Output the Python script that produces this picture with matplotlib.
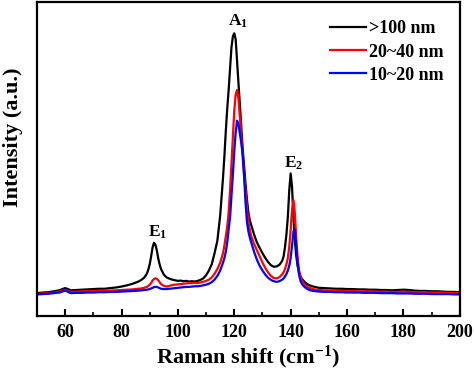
import matplotlib
matplotlib.use("Agg")
import matplotlib.pyplot as plt
from matplotlib.ticker import MultipleLocator

plt.rcParams['font.family'] = ['Liberation Serif', 'DejaVu Serif']
plt.rcParams['font.weight'] = 'bold'
plt.rcParams['mathtext.fontset'] = 'custom'
plt.rcParams['mathtext.rm'] = 'Liberation Serif:bold'
plt.rcParams['mathtext.bf'] = 'Liberation Serif:bold'
plt.rcParams['mathtext.it'] = 'Liberation Serif:bold'
plt.rcParams['mathtext.default'] = 'bf'

# Raman shift (cm^-1)
shift = [50, 52, 54, 56, 58, 59, 60, 61, 62, 64, 66, 68, 70, 72, 74, 76, 78, 80, 82, 84, 86, 87, 88,
         89, 89.5, 90, 90.5, 91, 91.5, 92, 92.5, 93, 93.5, 94,
         95, 96, 97, 98, 99, 100, 101, 102, 103, 104, 105, 106, 107, 108, 109, 110, 111, 112, 113, 114, 115, 116,
         116.5, 117, 117.5, 118, 118.5, 119, 119.5, 120, 120.5, 121, 121.5, 122, 122.5, 123, 123.5, 124, 124.5, 125, 125.5, 126,
         127, 128, 129, 130, 131, 132, 133, 134, 135, 136, 137,
         137.5, 138, 138.5, 139, 139.5, 140, 140.5, 141, 141.5, 142, 142.5, 143, 143.5,
         144, 145, 146, 147, 148, 149, 150,
         152, 154, 156, 158, 160, 162, 164, 166, 168, 170, 172, 174, 176, 178, 180, 182, 184, 186, 188, 190, 192, 194, 196, 198, 200]

# Intensity (a.u.)
int_100nm = [7.3, 7.5, 7.6, 7.9, 8.2, 8.6, 8.9, 8.6, 8.2, 8.3, 8.4, 8.5, 8.6, 8.7, 8.7, 8.9, 9.1, 9.4, 9.8, 10.3, 11.0, 11.5, 12.2,
             13.5, 14.8, 16.5, 19.0, 21.8, 23.3, 22.8, 21.0, 18.5, 16.5, 15.0,
             13.2, 12.3, 11.9, 11.6, 11.4, 11.2, 11.3, 11.1, 11.2, 11.0, 11.1, 11.0, 11.2, 11.5, 12.0, 13.0, 14.5, 16.5, 20.0, 24.0, 32.0, 44.0,
             51.0, 59.0, 66.0, 72.0, 79.0, 85.5, 89.0, 90.0, 88.0, 81.0, 74.0, 67.0, 60.0, 53.0, 47.5, 42.0, 37.0, 33.0, 30.5, 29.0,
             26.0, 23.5, 21.7, 20.0, 18.5, 17.2, 16.2, 15.7, 15.8, 16.3, 17.6,
             19.0, 22.0, 26.0, 31.5, 40.0, 45.4, 41.0, 31.0, 24.0, 19.0, 15.8, 13.8, 12.6,
             11.8, 10.8, 10.1, 9.7, 9.4, 9.2, 9.0,
             8.9, 8.8, 8.7, 8.7, 8.6, 8.6, 8.5, 8.5, 8.4, 8.4, 8.3, 8.3, 8.2, 8.3, 8.4, 8.3, 8.1, 8.0, 8.0, 7.9, 7.9, 7.8, 7.7, 7.7, 7.6]

int_20_40nm = [7.0, 7.2, 7.3, 7.5, 7.8, 8.1, 8.3, 8.0, 7.7, 7.8, 7.9, 7.9, 8.0, 8.0, 8.1, 8.1, 8.2, 8.3, 8.4, 8.5, 8.7, 8.8, 9.0,
               9.3, 9.6, 10.0, 10.6, 11.3, 11.8, 12.0, 11.9, 11.4, 10.8, 10.2,
               9.6, 9.4, 9.6, 9.9, 10.0, 10.1, 10.2, 10.3, 10.4, 10.5, 10.5, 10.6, 10.5, 10.7, 10.9, 11.2, 11.6, 12.3, 13.5, 15.0, 17.0, 20.0,
               22.5, 25.5, 28.5, 33.0, 40.0, 48.5, 57.0, 65.5, 70.5, 72.0, 69.0, 63.0, 57.0, 51.0, 45.0, 39.5, 34.5, 30.0, 27.5, 25.5,
               23.0, 21.0, 19.0, 17.0, 15.3, 13.9, 12.8, 12.1, 12.0, 12.4, 13.3,
               14.0, 15.0, 16.5, 18.5, 22.0, 27.5, 34.0, 36.9, 32.5, 24.5, 18.0, 14.5, 12.5,
               11.2, 10.0, 9.3, 8.9, 8.6, 8.4, 8.3,
               8.2, 8.1, 8.1, 8.0, 8.0, 8.0, 7.9, 7.9, 7.9, 7.8, 7.8, 7.8, 7.7, 7.7, 7.8, 7.7, 7.6, 7.6, 7.6, 7.5, 7.5, 7.5, 7.4, 7.4, 7.3]

int_10_20nm = [6.9, 7.0, 7.1, 7.3, 7.5, 7.8, 8.1, 7.7, 7.3, 7.4, 7.4, 7.5, 7.5, 7.6, 7.6, 7.7, 7.7, 7.8, 7.9, 8.0, 8.1, 8.2, 8.3,
               8.4, 8.5, 8.6, 8.8, 9.0, 9.2, 9.3, 9.3, 9.1, 8.9, 8.7,
               8.6, 8.6, 8.7, 8.8, 8.9, 9.0, 9.1, 9.2, 9.3, 9.3, 9.4, 9.5, 9.5, 9.6, 9.8, 10.0, 10.3, 10.8, 11.6, 12.8, 14.5, 17.0,
               18.5, 20.5, 23.5, 27.5, 31.5, 38.0, 45.0, 52.5, 58.5, 62.2, 61.0, 58.0, 55.0, 51.0, 44.0, 36.0, 30.0, 27.0, 25.0, 23.5,
               20.5, 18.0, 16.0, 14.5, 13.2, 12.2, 11.5, 11.1, 10.9, 11.1, 11.6,
               12.0, 12.6, 13.4, 14.5, 16.0, 18.5, 22.5, 27.0, 27.5, 22.0, 16.5, 13.0, 11.2,
               10.2, 9.2, 8.6, 8.2, 8.0, 7.9, 7.8,
               7.7, 7.7, 7.6, 7.6, 7.5, 7.5, 7.5, 7.4, 7.4, 7.4, 7.3, 7.3, 7.3, 7.2, 7.2, 7.2, 7.1, 7.1, 7.1, 7.0, 7.0, 7.0, 7.0, 6.9, 6.9]

labels = ['>100 nm', '20~40 nm', '10~20 nm']
colors = ['#000000', '#ff0000', '#0000ff']

peak_names = ['E$_1$', 'A$_1$', 'E$_2$']
peak_pos = [92.8, 121.3, 141.1]
peak_lab_y = [26.8, 93.7, 48.7]

assert len(shift) == len(int_100nm) == len(int_20_40nm) == len(int_10_20nm)

fig = plt.figure(figsize=(4.74, 3.71), dpi=100)
ax = fig.add_axes([0.078, 0.148, 0.892, 0.847])

for ys, lab, c in zip([int_100nm, int_20_40nm, int_10_20nm], labels, colors):
    ax.plot(shift, ys, color=c, lw=1.6, label=lab)

for name, xp, yp in zip(peak_names, peak_pos, peak_lab_y):
    ax.text(xp, yp, name, ha='center', va='center', fontsize=12.5, fontweight='bold')

ax.set_xlim(50, 200)
ax.set_ylim(0, 100)
ax.xaxis.set_major_locator(MultipleLocator(20))
ax.xaxis.set_minor_locator(MultipleLocator(10))
ax.set_yticks([])
ax.tick_params(axis='x', which='major', direction='in', length=5, width=1.5, labelsize=13, pad=6)
ax.tick_params(axis='x', which='minor', direction='in', length=3, width=1.2)
for s in ax.spines.values():
    s.set_linewidth(1.6)

ax.set_xlabel('Raman shift (cm$^{-1}$)', fontsize=16, fontweight='bold', labelpad=2)
ax.set_ylabel('Intensity (a.u.)', fontsize=16, fontweight='bold')
ax.yaxis.set_label_coords(-0.034, 0.57)

ax.legend(loc='upper right', bbox_to_anchor=(0.962, 0.941), frameon=False, fontsize=13,
          handlelength=2.0, handletextpad=0.17, labelspacing=0.34, borderpad=0, borderaxespad=0)

fig.savefig('out.png', dpi=100)
